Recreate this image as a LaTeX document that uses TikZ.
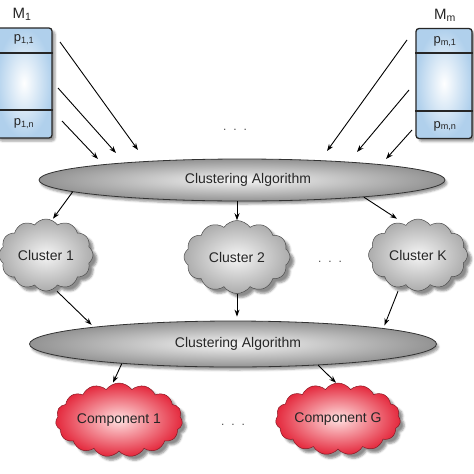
\documentclass[tikz,border=0pt]{standalone}
\usepackage{fontspec}
\setmainfont{Liberation Sans}
\usepackage{tikz}
\usetikzlibrary{shapes.geometric,shapes.symbols,shadows.blur,arrows.meta}
\definecolor{cellblue}{RGB}{176,208,236}
\definecolor{cloudred}{RGB}{228,40,60}

\begin{document}
\begin{tikzpicture}[x=1pt, y=-1pt,
		txt/.style={font=\fontsize{14}{16}\selectfont, text=black!85},
		arr/.style={-{Stealth[length=7pt,width=5pt]}, line width=0.9pt},
		membox/.style={draw=black!85, line width=1.3pt, rounded corners=3pt, inner color=white, outer color=cellblue,
			minimum width=56pt, minimum height=110pt, blur shadow={shadow xshift=3pt, shadow yshift=-3pt, shadow opacity=40}},
		algo/.style={ellipse, draw=black!80, line width=0.8pt, inner color=gray!8, outer color=gray!85,
			blur shadow={shadow xshift=2pt, shadow yshift=-3pt, shadow opacity=40}, txt},
		grpcloud/.style={cloud, cloud puffs=12, cloud puff arc=110, cloud ignores aspect, draw=gray!60!black, line width=0.5pt,
			inner color=gray!8, outer color=gray!65,
			blur shadow={shadow xshift=4pt, shadow yshift=-4pt, shadow opacity=45}, txt, inner sep=0pt},
		compcloud/.style={grpcloud, cloud puffs=15, draw=cloudred!60!black, inner color=red!12, outer color=cloudred},
		dots/.style={font=\fontsize{12}{14}\selectfont, text=black!70}
	]
	\useasboundingbox (0,0) rectangle (474,474);

	% memories
	\node[txt, font=\fontsize{15}{17}\selectfont] (m1) at (22,14) {M\textsubscript{1}};
	\node[membox] (box1) at (24,83) {};
	\node[txt, font=\fontsize{13}{15}\selectfont] (p11) at (24,40) {p\textsubscript{1,1}};
	\node[txt, font=\fontsize{13}{15}\selectfont] (p1n) at (24,124) {p\textsubscript{1,n}};
	\draw[line width=1.5pt, black!85] (box1.west |- 0,53) -- (box1.east |- 0,53);
	\draw[line width=1.5pt, black!85] (box1.west |- 0,110) -- (box1.east |- 0,110);

	\node[txt, font=\fontsize{15}{17}\selectfont] (mm) at (445,15) {M\textsubscript{m}};
	\node[membox] (box2) at (444,83.5) {};
	\node[txt, font=\fontsize{13}{15}\selectfont] (pm1) at (445,42) {p\textsubscript{m,1}};
	\node[txt, font=\fontsize{13}{15}\selectfont] (pmn) at (445,126) {p\textsubscript{m,n}};
	\draw[line width=1.5pt, black!85] (box2.west |- 0,53) -- (box2.east |- 0,53);
	\draw[line width=1.5pt, black!85] (box2.west |- 0,111) -- (box2.east |- 0,111);

	\node[dots] (dtop) at (235,130) {.\hspace{7pt}.\hspace{7pt}.};

	% first clustering
	\node[algo, minimum width=406pt, minimum height=42pt] (alg1) at (242,180) {\hspace*{12pt}Clustering Algorithm};

	\foreach \sx/\sy/\ex/\ey [count=\i] in {60/42/138/150, 58/88/116/153, 62/121/98/159} {
		\coordinate (l\i) at (\sx,\sy);
		\coordinate (la\i) at (\ex,\ey);
		\draw[arr] (l\i) -- (la\i);
	}
	\foreach \sx/\sy/\ex/\ey [count=\i] in {407/40/327/151, 409/90/357/152, 412/130/386/159} {
		\coordinate (r\i) at (\sx,\sy);
		\coordinate (ra\i) at (\ex,\ey);
		\draw[arr] (r\i) -- (ra\i);
	}

	% clusters
	\node[grpcloud, minimum width=94pt, minimum height=72pt] (c1) at (46,255) {Cluster 1};
	\node[grpcloud, minimum width=106pt, minimum height=73pt] (c2) at (237,257) {Cluster 2};
	\node[grpcloud, minimum width=99pt, minimum height=72pt] (ck) at (418,255) {Cluster K};
	\node[dots] (dmid) at (330,262) {.\hspace{7pt}.\hspace{7pt}.};

	\draw[arr] (alg1.184.7) -- ([xshift=7pt]c1.north);
	\draw[arr] (c2.north |- alg1.south) -- (c2.north);
	\draw[arr] (alg1.352) -- ([xshift=-21pt]ck.north);

	% second clustering
	\node[algo, minimum width=407pt, minimum height=46pt] (alg2) at (233,344) {\hspace*{10pt}Clustering Algorithm};

	\draw[arr, shorten >=3pt] ([xshift=11pt]c1.south) -- (alg2.173.3);
	\draw[arr, shorten >=4pt] (c2.south) -- (c2.south |- alg2.north);
	\draw[arr, shorten >=3pt] ([xshift=-20pt]ck.south) -- (alg2.6.9);

	% components
	\node[compcloud, minimum width=127pt, minimum height=74pt] (comp1) at (119,420) {Component 1};
	\node[compcloud, minimum width=125pt, minimum height=72pt] (compg) at (338,419) {Component G};
	\node[dots] (dbot) at (233,425) {.\hspace{7pt}.\hspace{7pt}.};

	\draw[arr] (alg2.190.9) -- ([xshift=-6pt]comp1.north);
	\draw[arr] (alg2.346.9) -- ([xshift=-2pt]compg.north);
\end{tikzpicture}
\end{document}
